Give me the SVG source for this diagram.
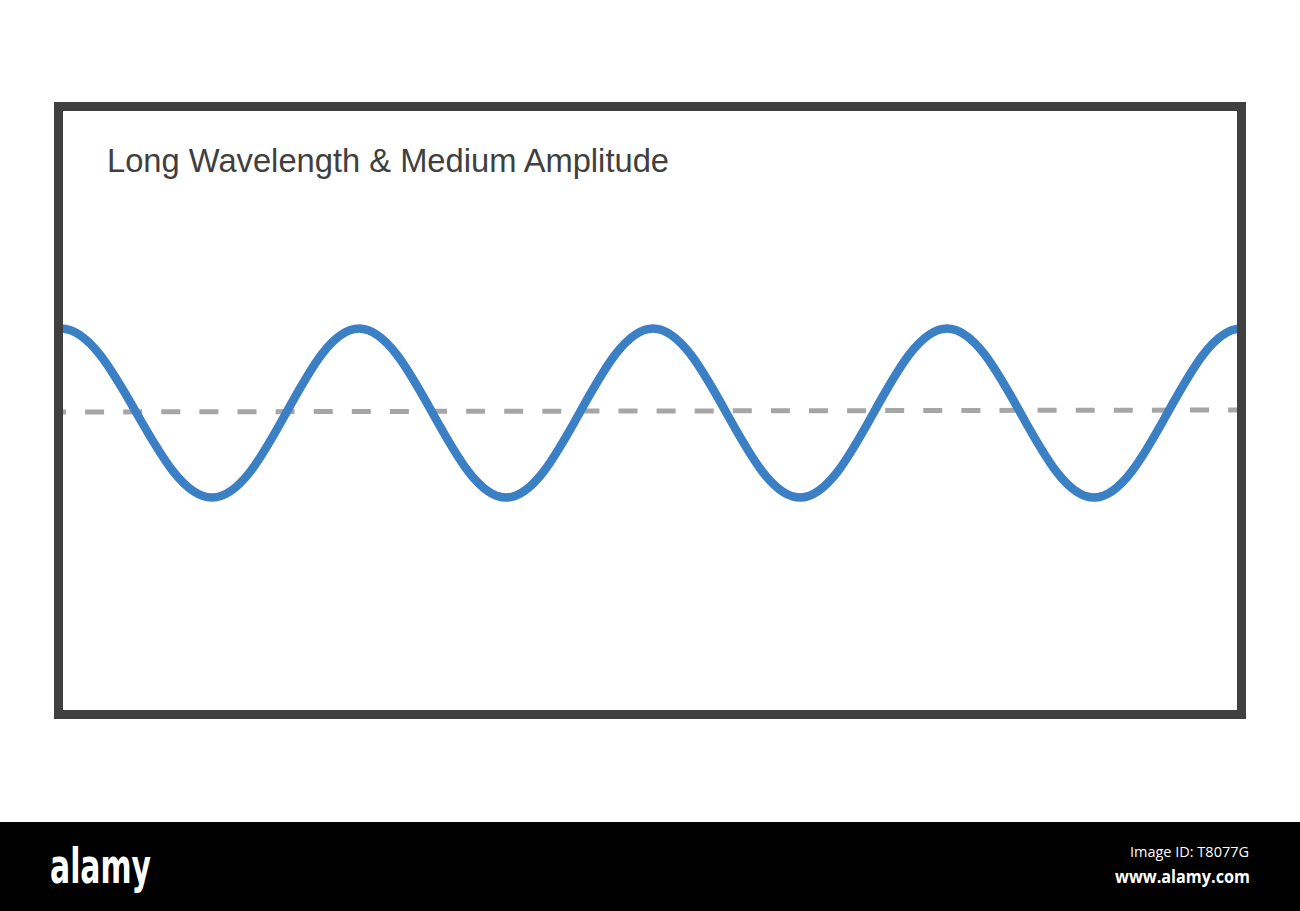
<svg xmlns="http://www.w3.org/2000/svg" width="1300" height="911" viewBox="0 0 1300 911">
  <style>
    .title { font-family: "Liberation Sans", Arial, sans-serif; font-size: 32.5px; fill: #404040; }
    .wave { fill: none; stroke: #3b7fc5; stroke-width: 8.5; }
    .axis { fill: none; stroke: #a6a6a8; stroke-width: 5; stroke-dasharray: 19 19.1; stroke-dashoffset: 7; }
    .frame { fill: none; stroke: #404040; stroke-width: 9; }
    .wm { fill: #ffffff; }
  </style>
  <rect x="0" y="0" width="1300" height="911" fill="#ffffff"/>
  <g id="chart">
    <g id="connectors">
      <line class="axis" x1="54" y1="412" x2="1240" y2="410"/>
      <path class="wave" d="M61,328.5 C116,328.5 157,497.5 212,497.5 S305.6,328.5 359,328.5 S452.6,497.5 506,497.5 S599.6,328.5 653,328.5 S746.6,497.5 800,497.5 S893.6,328.5 947,328.5 S1040.6,497.5 1094,497.5 S1187.6,328.5 1241,328.5"/>
    </g>
    <g id="frame">
      <rect class="frame" x="58.5" y="106.5" width="1183" height="608"/>
    </g>
    <g id="title">
      <text class="title" x="107" y="172" textLength="562" lengthAdjust="spacingAndGlyphs">Long Wavelength &amp; Medium Amplitude</text>
    </g>
  </g>
  <g id="watermark">
    <rect x="0" y="822" width="1300" height="89" fill="#000000"/>
    <text class="wm" x="50" y="883" font-family="'Liberation Sans Narrow', 'DejaVu Sans Condensed', 'Liberation Sans', sans-serif" font-weight="bold" font-size="48" textLength="101" lengthAdjust="spacingAndGlyphs">alamy</text>
    <text class="wm" x="1130" y="857" font-family="'Open Sans', 'Noto Sans', sans-serif" font-size="15" textLength="119" lengthAdjust="spacingAndGlyphs">Image ID: T8077G</text>
    <text class="wm" x="1115" y="883" font-family="'Open Sans', 'Noto Sans', sans-serif" font-weight="bold" font-size="17" textLength="135" lengthAdjust="spacingAndGlyphs">www.alamy.com</text>
  </g>
</svg>
